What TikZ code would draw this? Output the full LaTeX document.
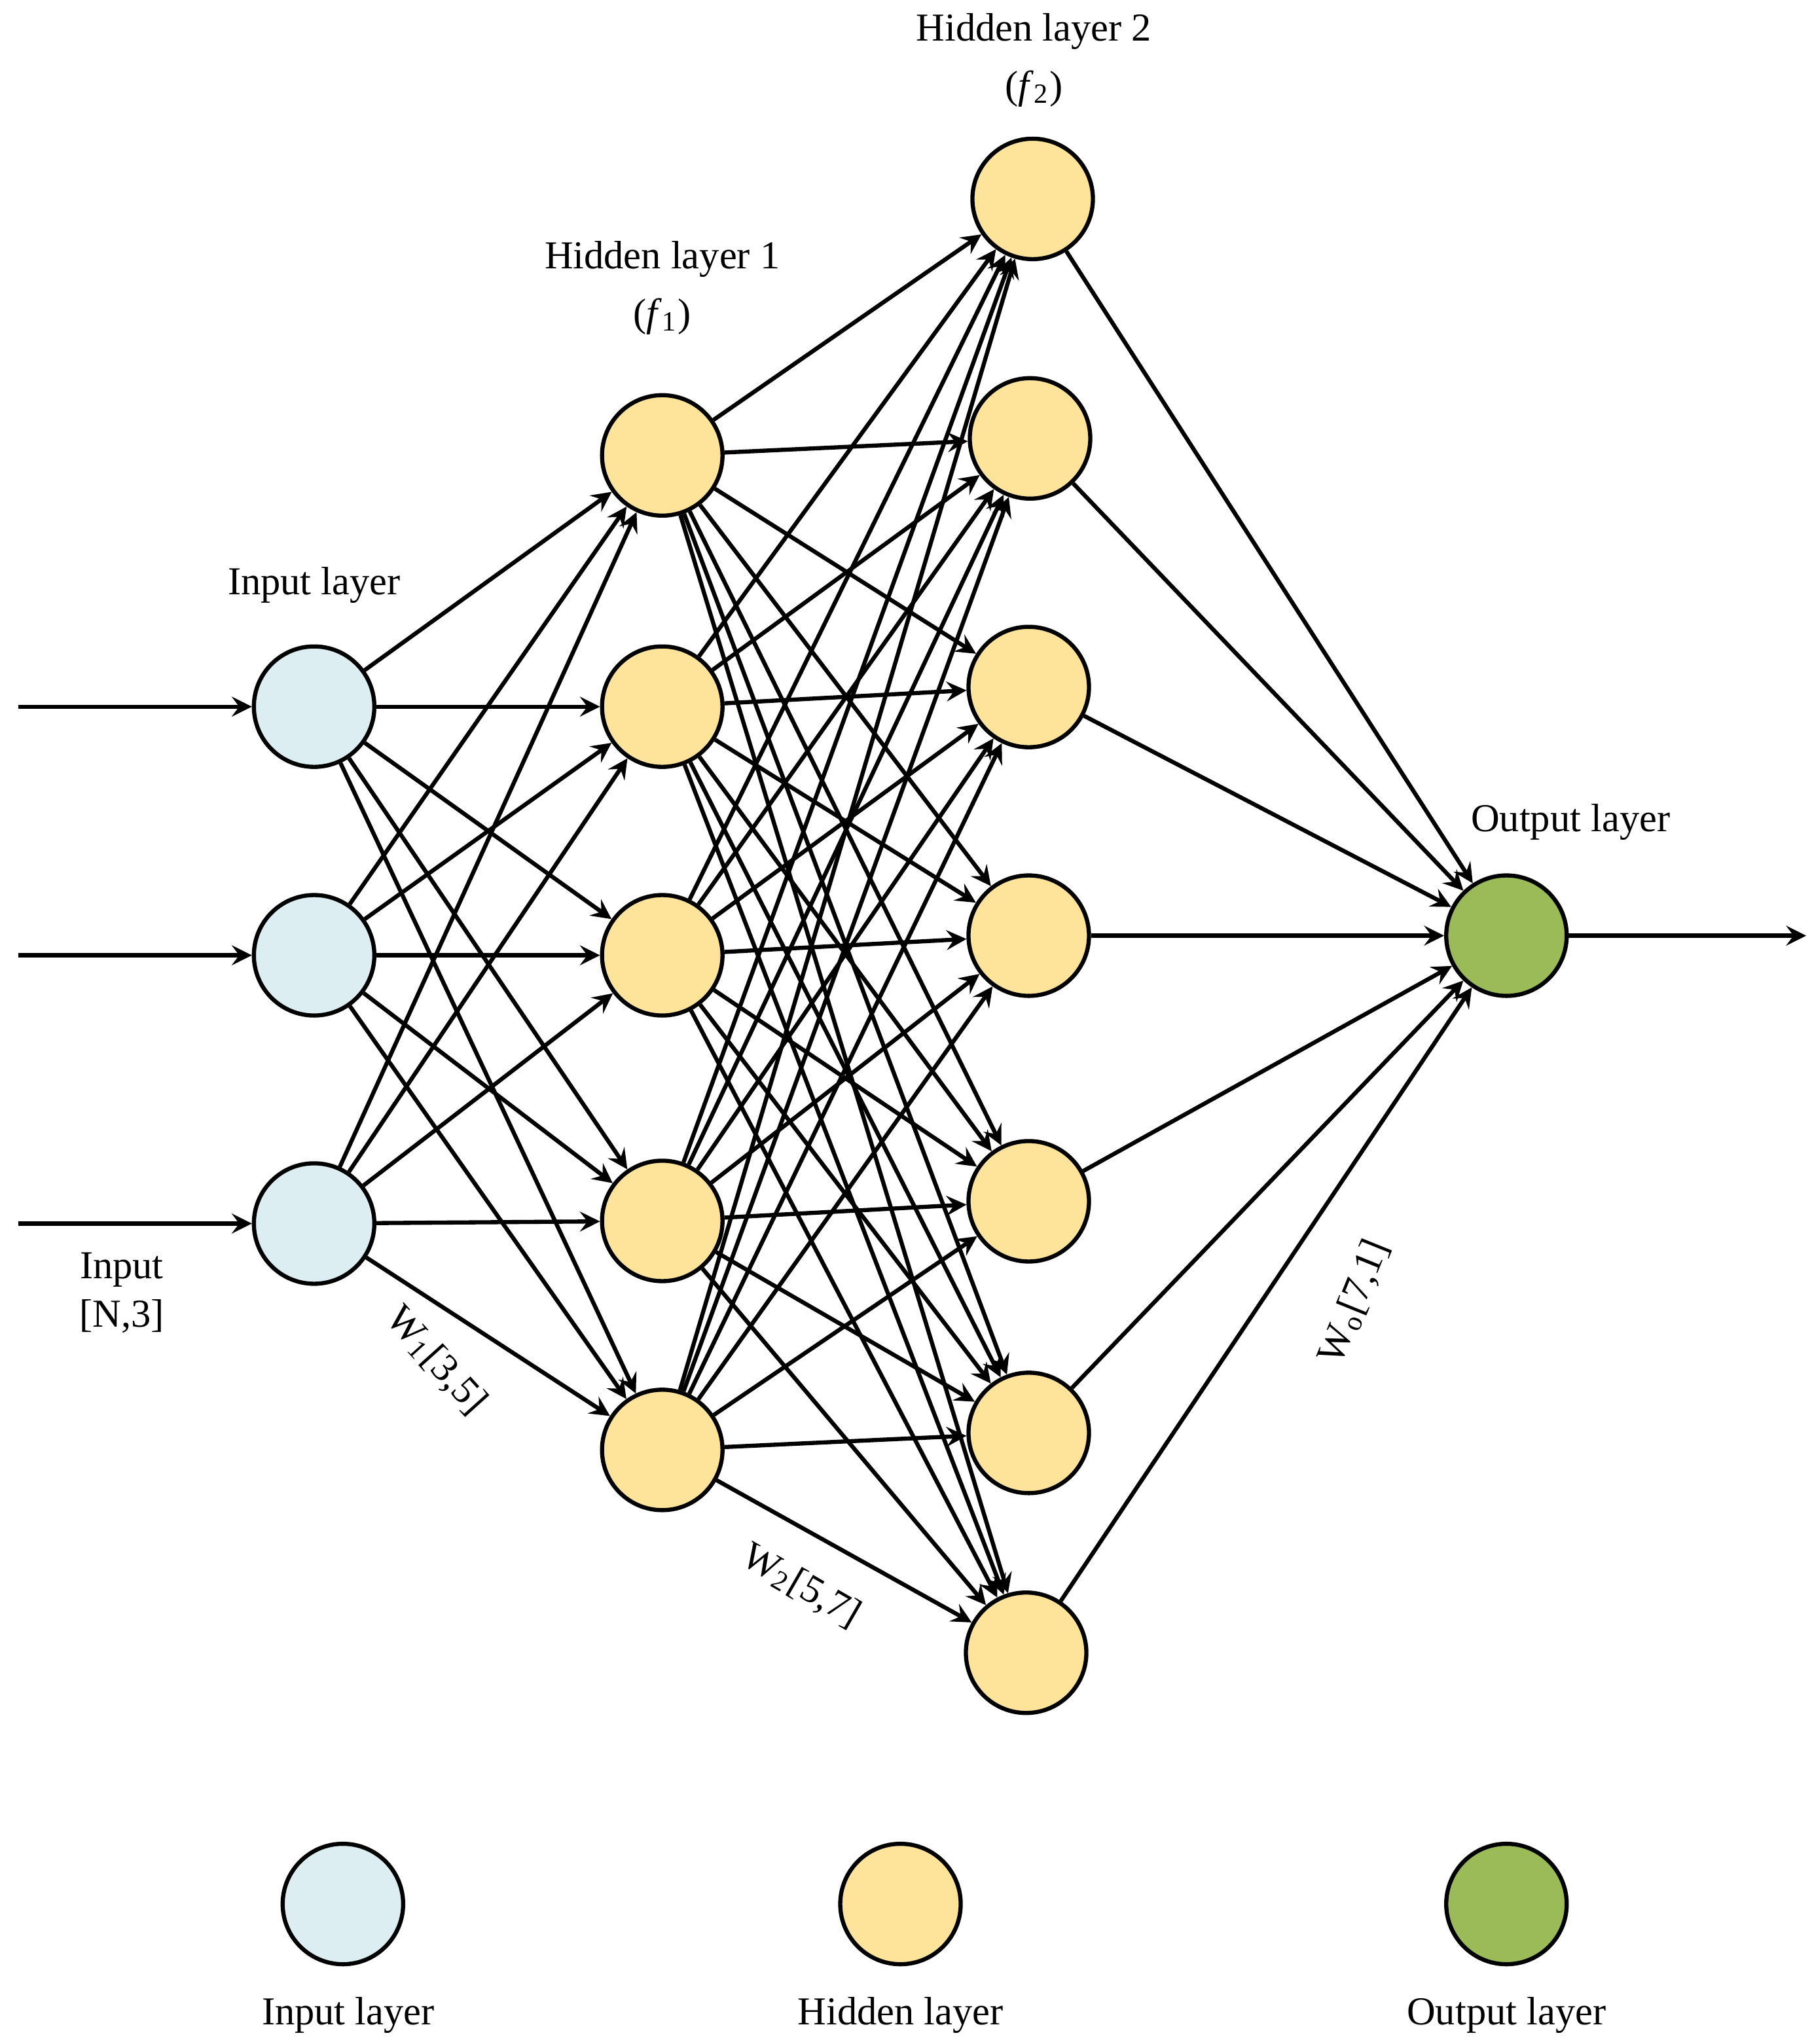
\documentclass[tikz,border=0pt]{standalone}
\usepackage{fontspec}
\setmainfont{Liberation Serif}
\usetikzlibrary{arrows, positioning}
\definecolor{inblue}{HTML}{DDEEF3}
\definecolor{hidyellow}{HTML}{FDE49A}
\definecolor{outgreen}{HTML}{9BBB59}
\begin{document}
\begin{tikzpicture}[x=0.01cm, y=-0.01cm,
			font=\fontsize{8.6}{10.5}\selectfont,
			neuron/.style = {circle, draw, line width=0.9pt, minimum size=0.92cm, inner sep=0pt},
			inneuron/.style = {neuron, fill=inblue},
			hidneuron/.style = {neuron, fill=hidyellow},
			outneuron/.style = {neuron, fill=outgreen},
			line/.style = {draw, line width=0.9pt, -stealth},
			label/.style = {align=center, inner sep=0pt},
		]
		\useasboundingbox (0,0) rectangle (1384,1562);

		% Input layer
		\foreach \i/\y in {1/540, 2/730, 3/935}
			\node [inneuron] (in\i) at (240,\y) {};

		% Hidden layer 1
		\foreach \i/\y in {1/348, 2/540, 3/730, 4/933, 5/1108}
			\node [hidneuron] (ha\i) at (506,\y) {};

		% Hidden layer 2
		\foreach \i/\x/\y in {1/789/152, 2/787/335, 3/786/525, 4/786/715, 5/786/918, 6/786/1095, 7/784/1263}
			\node [hidneuron] (hb\i) at (\x,\y) {};

		% Output layer
		\node [outneuron] (out) at (1151,715) {};

		% Legend
		\node [inneuron] (legin) at (262,1455) {};
		\node [hidneuron] (leghid) at (688,1455) {};
		\node [outneuron] (legout) at (1151,1455) {};

		% Free ends
		\foreach \i/\y in {1/540, 2/730, 3/935}
			\coordinate (src\i) at (14,\y);
		\coordinate (sink) at (1380,715);

		% Draw arrows
		\foreach \i in {1,2,3}
			\path [line] (src\i) -- (in\i);
		\foreach \i in {1,2,3}
			\foreach \j in {1,...,5}
				\path [line] (in\i) -- (ha\j);
		\foreach \i in {1,...,5}
			\foreach \j in {1,...,7}
				\path [line] (ha\i) -- (hb\j);
		\foreach \j in {1,...,7}
			\path [line] (hb\j) -- (out);
		\path [line] (out) -- (sink);

		% Labels
		\node [label] (lin) at (240,447) {Input layer};
		\node [label] (lha) at (506,220) {Hidden layer 1\\[2pt](\textit{f}\textsubscript{1})};
		\node [label] (lhb) at (790,46) {Hidden layer 2\\[2pt](\textit{f}\textsubscript{2})};
		\node [label] (lout) at (1200,628) {Output layer};
		\node [label] (linput) at (93,988) {Input\\{}[N,3]};
		\node [label, rotate=-48] (lwa) at (333,1040) {W\textsubscript{1}[3,5]};
		\node [label, rotate=-30] (lwb) at (612,1212) {W\textsubscript{2}[5,7]};
		\node [label, rotate=68] (lwo) at (1035,995) {W\textsubscript{o}[7,1]};
		\node [label] (llin) at (266,1540) {Input layer};
		\node [label] (llhid) at (688,1540) {Hidden layer};
		\node [label] (llout) at (1151,1540) {Output layer};
	\end{tikzpicture}
\end{document}
